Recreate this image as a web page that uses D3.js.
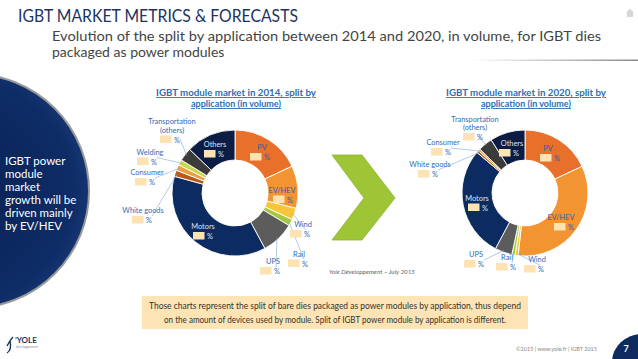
<!DOCTYPE html>
<html>
<head>
<meta charset="utf-8">
<script src="https://cdn.jsdelivr.net/npm/d3@7"></script>
<style>
html,body{margin:0;padding:0;background:#fff;}
svg{display:block;font-family:Lato,"Open Sans",sans-serif;}
</style>
</head>
<body>
<div id="chart"></div>
<script>
// split by application, in % of volume
var categories2014=["PV","EV/HEV","Wind","Rail","UPS","Motors","White goods","Consumer","Welding","Transportation (others)","Others"];
var share2014=[18,10.9,3,1.7,8.5,37.1,1.6,1.5,1.4,3.4,12.8];
var categories2020=["PV","EV/HEV","Wind","Rail","UPS","Motors","White goods","Consumer","Transportation (others)","Others"];
var share2020=[18,33.6,0.8,0.8,4.4,28.3,0.6,0.5,3.7,9];

var appColors={
	"PV":"#e8702b","EV/HEV":"#f39433","Wind":"#f8c53a","Rail":"#a6c83d","UPS":"#5c5c5c",
	"Motors":"#0c2b60","White goods":"#b75a1d","Consumer":"#eaa040","Welding":"#c9d947",
	"Transportation (others)":"#3b3b3b","Others":"#0b1d44"
};
var insideLabels={"PV":"#2d5ea6","EV/HEV":"#2d5ea6","Motors":"#dbe5f4","Others":"#dbe5f4"};

// label anchors: [name x (centre), name baseline, "%" x, leader?]
var labels2014={
	"Transportation (others)":[172,124,174,1],"Welding":[150,154.5,151,1],"Consumer":[147,175,149,1],
	"White goods":[143,213,146,1],"Others":[215,147,218,0],"PV":[262,150,264,0],"EV/HEV":[282,192.5,287,0],
	"Wind":[303,227,304,1],"Rail":[299,256.5,302,1],"UPS":[273,264,274,1],"Motors":[203,229,207,0]
};
var labels2020={
	"Transportation (others)":[475,121.5,477,1],"Consumer":[443,145,445,1],"White goods":[430,167,432,1],
	"Others":[512,146,513,0],"PV":[548,151,554,0],"Motors":[477,200.5,482,0],"EV/HEV":[561,220,568,0],
	"UPS":[476,257,478,1],"Rail":[507,260,510,1],"Wind":[537,262,538,1]
};

var W=638,H=359;
var svg=d3.select("#chart").append("svg").attr("width",W).attr("height",H);
var defs=svg.append("defs");

var rg=defs.append("radialGradient").attr("id","navyGrad").attr("cx","45%").attr("cy","50%").attr("r","60%");
rg.append("stop").attr("offset","0%").attr("stop-color","#0a2255");
rg.append("stop").attr("offset","80%").attr("stop-color","#0e2c66");
rg.append("stop").attr("offset","100%").attr("stop-color","#1a3d7c");
var lg=defs.append("linearGradient").attr("id","ruleGrad");
lg.append("stop").attr("offset","0%").attr("stop-color","#fff");
lg.append("stop").attr("offset","100%").attr("stop-color","#8a8a8a");

// header
svg.append("text").attr("x",18).attr("y",21.5).attr("font-size",17.5).attr("fill","#1d3461")
	.attr("textLength",280).attr("lengthAdjust","spacingAndGlyphs").text("IGBT MARKET METRICS & FORECASTS");
svg.append("path").attr("d","M626,13 L630,8.5 L634,13 L633,13 L633,17 L627,17 L627,13 Z").attr("fill","#d6d6d6");
var sub=["Evolution of the split by application between 2014 and 2020, in volume, for IGBT dies","packaged as power modules"];
svg.selectAll(".sub").data(sub).enter().append("text").attr("class","sub")
	.attr("x",52).attr("y",function(d,i){return 40.5+i*16.5})
	.attr("font-size",14).attr("fill","#444")
	.attr("textLength",function(d,i){return i==0?549:null})
	.attr("lengthAdjust","spacingAndGlyphs").text(function(d){return d});
svg.append("rect").attr("x",470).attr("y",59.5).attr("width",168).attr("height",1.5).attr("fill","url(#ruleGrad)");

// left circle callout
svg.append("circle").attr("cx",-28).attr("cy",191).attr("r",117).attr("fill","url(#navyGrad)")
	.attr("stroke","#9a9a9a").attr("stroke-width",2);
var callout=["IGBT power","module","market","growth will be","driven mainly","by EV/HEV"];
svg.selectAll(".callout").data(callout).enter().append("text").attr("class","callout")
	.attr("x",5).attr("y",function(d,i){return 165+i*13})
	.attr("font-size",11.5).attr("fill","#fff").text(function(d){return d});

// chevron
svg.append("path").attr("d","M332,155 L362,155 L395,198 L362,240 L332,240 L364,198 Z")
	.attr("fill","#9dc535").attr("stroke","#8fb42e").attr("stroke-width",0.8);

svg.append("text").attr("x",329).attr("y",274).attr("font-size",6.3).attr("font-style","italic")
	.attr("fill","#666").text("Yole Développement – July 2015");

function donut(cats,vals,lab,cx,cy,title){
	var g=svg.append("g");
	var data=cats.map(function(c,i){return {cat:c,val:vals[i]}});
	var pie=d3.pie().sort(null).value(function(d){return d.val});
	var arcs=pie(data);
	var rOut=63,rIn=33;
	var arc=d3.arc().innerRadius(rIn).outerRadius(rOut);
	var gp=g.append("g").attr("transform","translate("+cx+","+cy+")");
	gp.selectAll("path").data(arcs).enter().append("path").attr("d",arc)
		.attr("fill",function(d){return appColors[d.data.cat]})
		.attr("stroke","#fff").attr("stroke-width",0.9);
	// title, two lines
	title.forEach(function(t,i){
		var tt=g.append("text").attr("x",cx+1).attr("y",96+i*11).attr("text-anchor","middle")
			.attr("font-size",9).attr("font-weight","bold").attr("fill","#2e6db4")
			.attr("text-decoration","underline").text(t);
		if(i==0) tt.attr("textLength",160).attr("lengthAdjust","spacingAndGlyphs");
	});
	// leaders
	var edge=d3.arc().innerRadius(rOut-2).outerRadius(rOut-2);
	arcs.forEach(function(a){
		var L=lab[a.data.cat]; if(!L||!L[3]) return;
		var p=edge.centroid(a);
		var lx=L[2]+2, ly=L[1]+(a.data.cat.indexOf("Transportation")==0?15:3);
		if(cx+p[0]>lx+10) lx=L[2]+6;
		g.append("line").attr("x1",lx).attr("y1",ly).attr("x2",cx+p[0]).attr("y2",cy+p[1])
			.attr("stroke","#7fa6d6").attr("stroke-width",0.6);
	});
	arcs.forEach(function(a){
		var c=a.data.cat,L=lab[c]; if(!L) return;
		var col=insideLabels[c]||"#2e6db4";
		var names=c=="Transportation (others)"?["Transportation","(others)"]:[c];
		names.forEach(function(n,i){
			g.append("text").attr("x",L[0]).attr("y",L[1]+i*8.5).attr("text-anchor","middle")
				.attr("font-size",7.4).attr("fill",col).text(n);
		});
		var by=L[1]+3+(names.length-1)*8.5;
		g.append("rect").attr("x",L[2]-14).attr("y",by).attr("width",11.5).attr("height",7.5).attr("fill","#fde2b2");
		g.append("text").attr("x",L[2]).attr("y",by+7).attr("font-size",7.4).attr("fill",col).text("%");
	});
}
donut(categories2014,share2014,labels2014,235,193,["IGBT module market in 2014, split by","application (in volume)"]);
donut(categories2020,share2020,labels2020,525,193,["IGBT module market in 2020, split by","application (in volume)"]);

// note box
svg.append("rect").attr("x",142).attr("y",296).attr("width",386).attr("height",33).attr("fill","#fde4b4");
var note=["Those charts represent the split of bare dies packaged as power modules by application, thus depend",
	"on the amount of devices used by module. Split of IGBT power module by application is different."];
svg.selectAll(".note").data(note).enter().append("text").attr("class","note")
	.attr("x",335).attr("y",function(d,i){return 309+i*13.5}).attr("text-anchor","middle")
	.attr("font-size",9.3).attr("fill","#333")
	.attr("textLength",function(d,i){return i==0?372:342}).attr("lengthAdjust","spacingAndGlyphs")
	.text(function(d){return d});

// footer
svg.append("path").attr("d","M7,346 Q10,340 13,337 M10,341 Q12,350 7,353").attr("stroke","#1d3461").attr("stroke-width",1.4).attr("fill","none");
svg.append("text").attr("x",15).attr("y",343).attr("font-size",8).attr("font-weight","bold").attr("fill","#1d3461").text("\u2019YOLE");
svg.append("text").attr("x",16).attr("y",348).attr("font-size",3.2).attr("fill","#7a8aa8").text("développement");
svg.append("text").attr("x",597).attr("y",351).attr("text-anchor","end").attr("font-size",5.5).attr("fill","#888")
	.text("©2015 | www.yole.fr | IGBT 2015");
svg.append("ellipse").attr("cx",642).attr("cy",362).attr("rx",30).attr("ry",28).attr("fill","#0e2a5e");
svg.append("text").attr("x",626).attr("y",352).attr("text-anchor","middle").attr("font-size",9).attr("font-weight","bold").attr("fill","#fff").text("7");
</script>
</body>
</html>
